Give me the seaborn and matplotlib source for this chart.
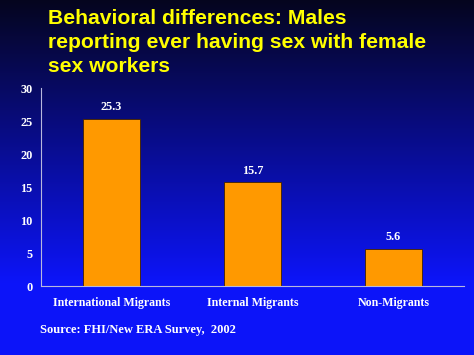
import numpy as np
import pandas as pd
import matplotlib
matplotlib.use("Agg")
import matplotlib.pyplot as plt
import seaborn as sns

categories = ["International Migrants", "Internal Migrants", "Non-Migrants"]
values = [25.3, 15.7, 5.6]
yticks = [0, 5, 10, 15, 20, 25, 30]

title = "Behavioral differences: Males\nreporting ever having sex with female\nsex workers"
source = "Source: FHI/New ERA Survey,  2002"

sns.set_style("white")

df = pd.DataFrame({"group": categories, "pct": values})

fig = plt.figure(figsize=(4.74, 3.55), dpi=100)

# blue gradient background, dark at the top
bg = fig.add_axes([0, 0, 1, 1], zorder=0)
t = np.linspace(0, 1, 256)[:, None]
top = np.array([0.02, 0.02, 0.12])
bot = np.array([0.05, 0.08, 0.98])
grad = top + (bot - top) * np.clip(t * 1.25, 0, 1)[..., None]
bg.imshow(np.repeat(grad, 2, axis=1), aspect="auto", extent=[0, 1, 0, 1])
bg.axis("off")

ax = fig.add_axes([0.0865, 0.194, 0.8925, 0.558], zorder=1)
ax.patch.set_alpha(0)
sns.barplot(data=df, x="group", y="pct", color="#ff9900", width=0.41,
            edgecolor="#402000", linewidth=0.6, saturation=1, ax=ax)

for i, v in enumerate(values):
    ax.text(i, v + 0.9, f"{v}", ha="center", va="bottom", color="white",
            fontsize=8.8, fontweight="bold", family="Liberation Serif")

ax.set_xlim(-0.5, 2.5)
ax.set_ylim(0, 30)
ax.set_yticks(yticks)
ax.set_xlabel("")
ax.set_ylabel("")
for s in ["top", "right"]:
    ax.spines[s].set_visible(False)
for s in ["left", "bottom"]:
    ax.spines[s].set_color("#b8b8dd")
    ax.spines[s].set_linewidth(0.8)
ax.tick_params(axis="y", direction="out", length=3, color="#b8b8dd", width=0.8,
               labelcolor="white", labelsize=8.8, pad=3)
ax.tick_params(axis="x", length=0, labelcolor="white", labelsize=8.6, pad=8)
for lab in ax.get_xticklabels() + ax.get_yticklabels():
    lab.set_fontweight("bold")
    lab.set_family("Liberation Serif")

# small boundary ticks between categories
ax.set_xticks([0.5, 1.5, 2.5], minor=True)
ax.tick_params(axis="x", which="minor", direction="inout", length=4,
               color="#b8b8dd", width=0.8)

fig.text(48 / 474, 1 - 9 / 355, title, ha="left", va="top", color="#ffff00",
         fontsize=15.2, fontweight="bold", family="Liberation Sans",
         linespacing=1.33)
fig.text(40 / 474, 1 - 330 / 355, source, ha="left", va="center", color="white",
         fontsize=9, fontweight="bold", family="Liberation Serif")

fig.savefig("out.png", dpi=100)
